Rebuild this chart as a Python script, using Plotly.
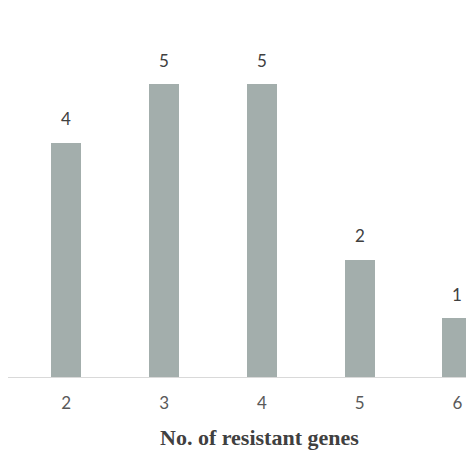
import plotly.graph_objects as go

# number of resistant genes vs count of isolates
genes = [2, 3, 4, 5, 6]
counts = [4, 5, 5, 2, 1]

bar_color = '#a3aeac'
text_color = '#404040'

# the page adds an 8px body margin, so the figure is drawn 8px smaller
W = 466

fig = go.Figure()

fig.add_trace(go.Bar(x=genes, y=counts,
                     width=0.31,
                     marker=dict(color=bar_color, line=dict(width=0)),
                     showlegend=False,
                     hoverinfo='skip'))

# value labels above each bar
for g, c in zip(genes, counts):
    fig.add_annotation(x=g, y=c, text=str(c),
                       showarrow=False, yanchor='middle', yshift=24,
                       font=dict(family='Lato', size=17, color=text_color))

fig.update_xaxes(range=[1.404, 6.169],
                 tickvals=genes, ticktext=[str(g) for g in genes],
                 showline=True, linecolor='#d9d9d9', linewidth=1.2,
                 showgrid=False, zeroline=False, ticks='',
                 ticklabelstandoff=10,
                 tickfont=dict(family='Lato', size=17, color='#595959'))
fig.update_yaxes(range=[0, 6.298], visible=False)

fig.add_annotation(text='<b>No. of resistant genes</b>',
                   xref='paper', yref='paper', x=251.5 / W, y=-0.165,
                   xanchor='center', yanchor='middle', showarrow=False,
                   font=dict(family='Liberation Serif', size=22, color=text_color))

fig.update_layout(width=W, height=W,
                  margin=dict(l=0, r=0, t=0, b=97),
                  plot_bgcolor='white', paper_bgcolor='white',
                  bargap=0)

fig.write_html("out.html")
